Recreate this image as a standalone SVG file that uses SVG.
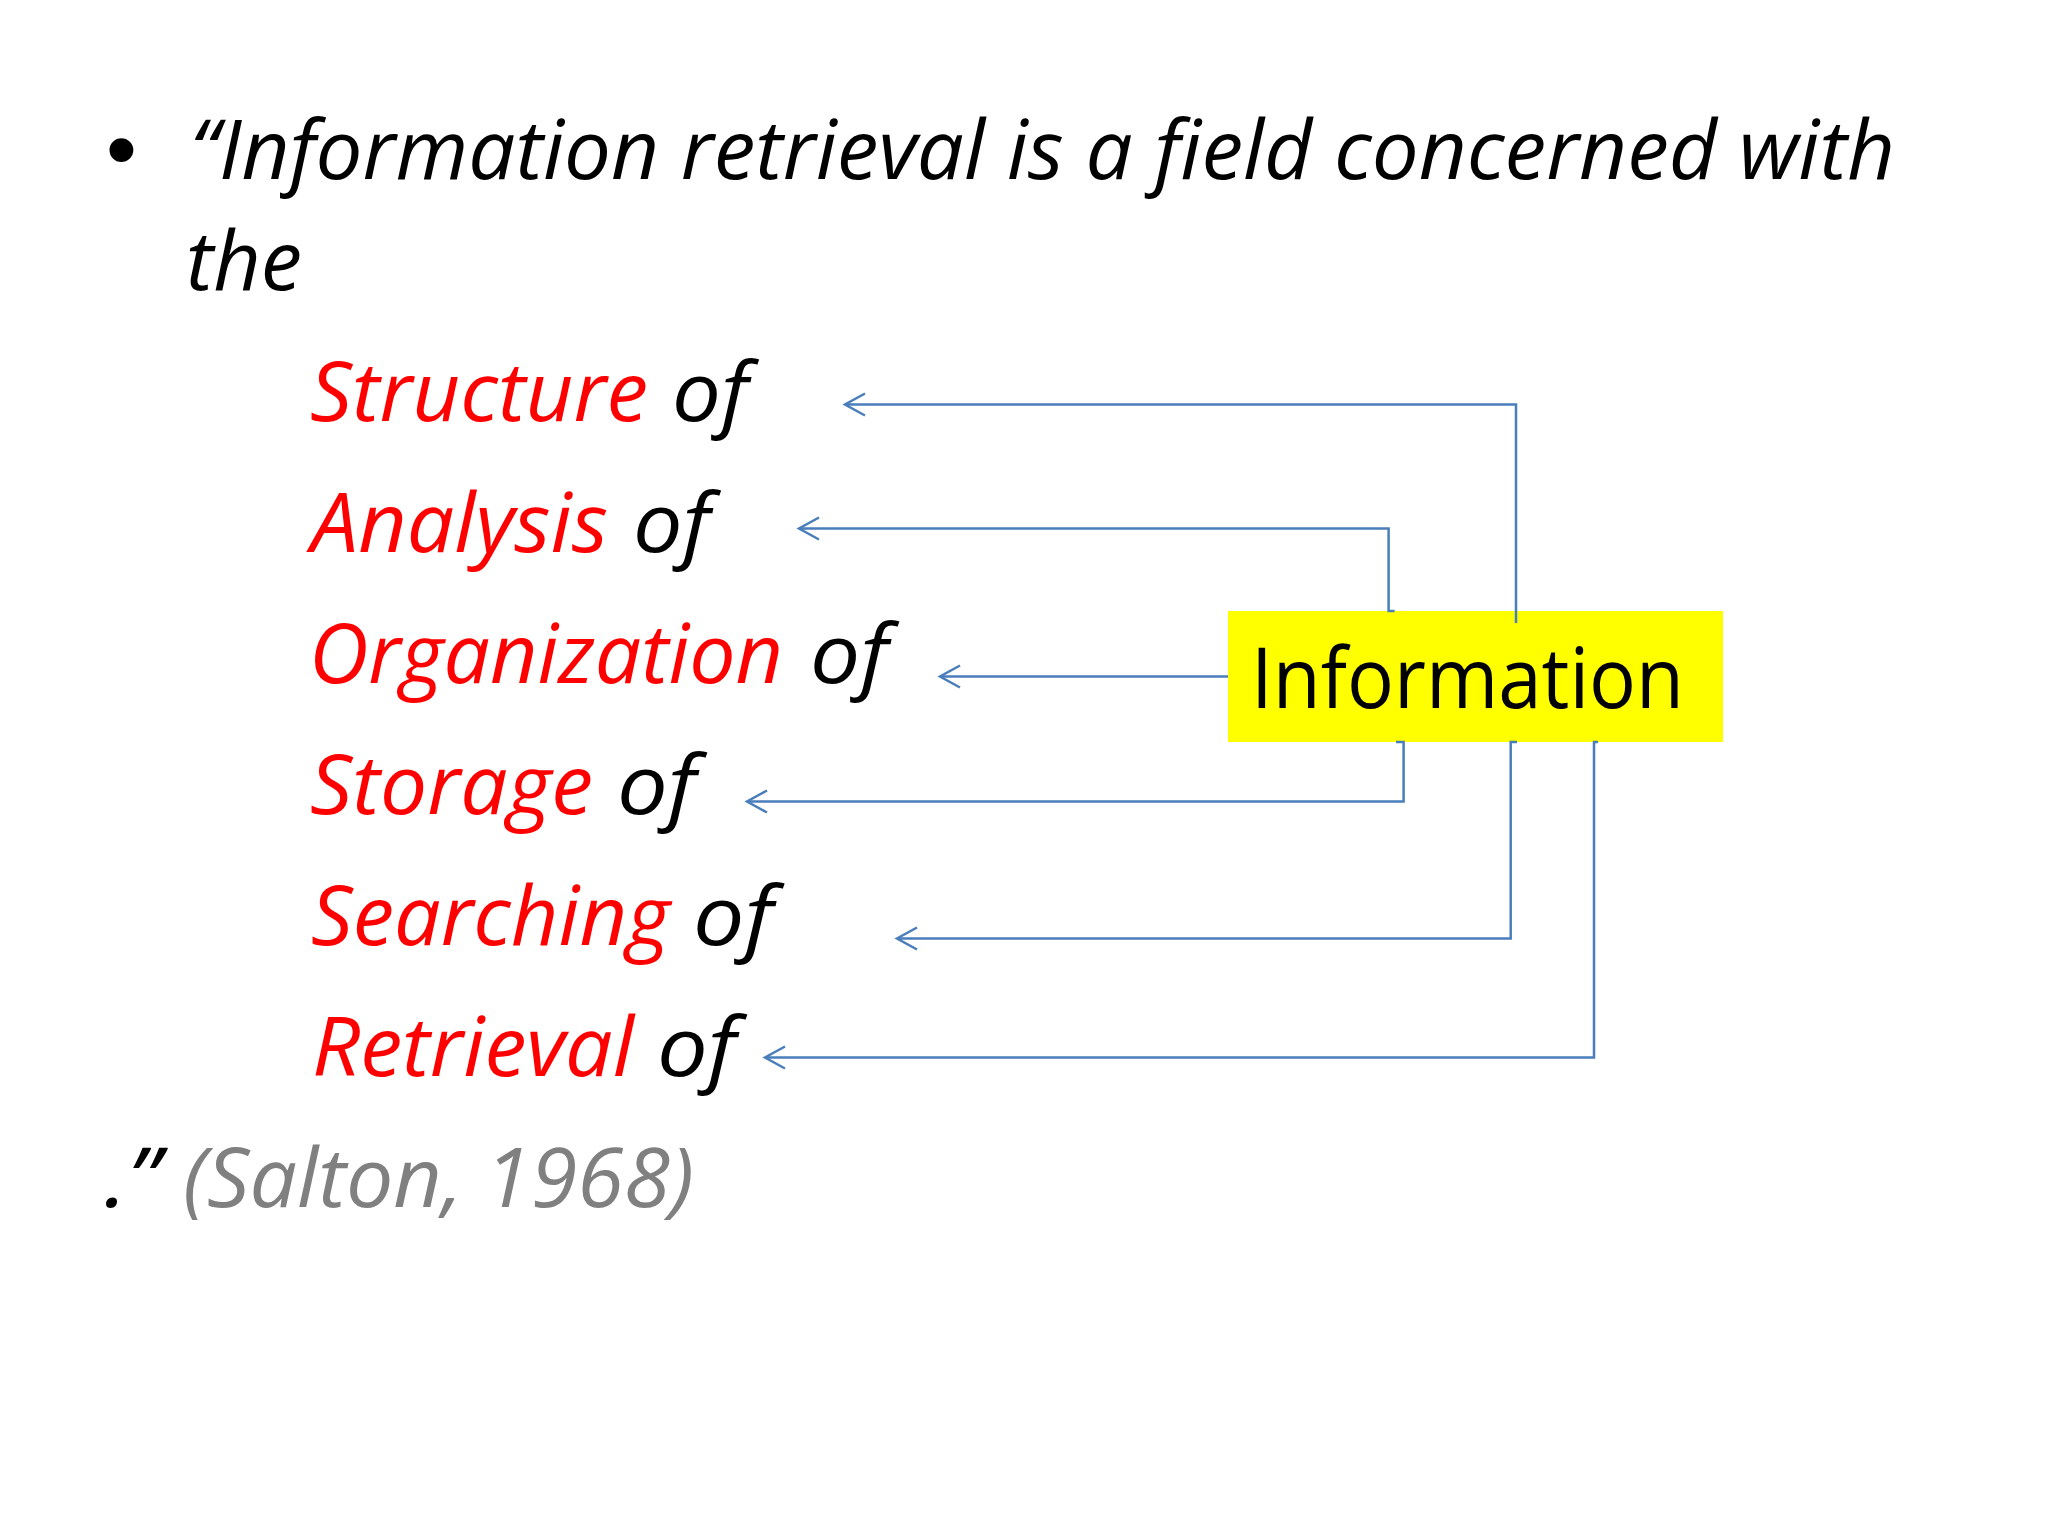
<svg xmlns="http://www.w3.org/2000/svg" width="2048" height="1536" viewBox="0 0 2048 1536">
<defs>
<style>
.t{font-family:"Open Sans","Liberation Sans",sans-serif;font-size:82px;font-style:italic}
.red{fill:#FF0000}
.blk{fill:#000000}
.gry{fill:#808080}
.lbl{font-family:"Open Sans","Liberation Sans",sans-serif;font-size:85px;fill:#000000}
.con{fill:none;stroke:#4A7EBB;stroke-width:2.5}
</style>
<marker id="arr" markerUnits="userSpaceOnUse" markerWidth="30" markerHeight="30" refX="0" refY="0" orient="auto" overflow="visible">
<path d="M-20,-11 L0,0 L-20,11" fill="none" stroke="#4A7EBB" stroke-width="2.5"/>
</marker>
</defs>
<rect width="2048" height="1536" fill="#FFFFFF"/>
<g id="quote">
<text x="106" y="179" style="font-family:'Liberation Sans',sans-serif;font-size:88px" fill="#000">•</text>
<text class="t blk" x="190" y="179" textLength="1705" lengthAdjust="spacingAndGlyphs">“Information retrieval is a field concerned with</text>
<text class="t blk" x="186" y="290" textLength="116" lengthAdjust="spacingAndGlyphs">the</text>
</g>
<g id="structure">
<text class="t red" x="310" y="421" textLength="338" lengthAdjust="spacingAndGlyphs">Structure</text>
<text class="t blk" x="672" y="421" textLength="76" lengthAdjust="spacingAndGlyphs">of</text>
</g>
<g id="analysis">
<text class="t red" x="311" y="552" textLength="297" lengthAdjust="spacingAndGlyphs">Analysis</text>
<text class="t blk" x="633" y="552" textLength="77" lengthAdjust="spacingAndGlyphs">of</text>
</g>
<g id="organization">
<text class="t red" x="309" y="683" textLength="474" lengthAdjust="spacingAndGlyphs">Organization</text>
<text class="t blk" x="810" y="683" textLength="78" lengthAdjust="spacingAndGlyphs">of</text>
</g>
<g id="storage">
<text class="t red" x="310" y="814" textLength="283" lengthAdjust="spacingAndGlyphs">Storage</text>
<text class="t blk" x="617" y="814" textLength="79" lengthAdjust="spacingAndGlyphs">of</text>
</g>
<g id="searching">
<text class="t red" x="311" y="945" textLength="359" lengthAdjust="spacingAndGlyphs">Searching</text>
<text class="t blk" x="693" y="945" textLength="80" lengthAdjust="spacingAndGlyphs">of</text>
</g>
<g id="retrieval">
<text class="t red" x="312" y="1076" textLength="322" lengthAdjust="spacingAndGlyphs">Retrieval</text>
<text class="t blk" x="657" y="1076" textLength="79" lengthAdjust="spacingAndGlyphs">of</text>
</g>
<g id="citation">
<text class="t blk" x="104" y="1207" textLength="56" lengthAdjust="spacingAndGlyphs">.”</text>
<text class="t gry" x="183" y="1207" textLength="511" lengthAdjust="spacingAndGlyphs">(Salton, 1968)</text>
</g>
<g id="information">
<rect x="1228" y="611" width="495" height="131" fill="#FFFF00"/>
<text class="lbl" x="1251" y="708" textLength="433" lengthAdjust="spacingAndGlyphs">Information</text>
</g>
<g id="connectors">
<path class="con" d="M1516,623 V404.5 H845" marker-end="url(#arr)"/>
<path class="con" d="M1394.6,611 H1388.6 V528.5 H799" marker-end="url(#arr)"/>
<path class="con" d="M1228,676.5 H940" marker-end="url(#arr)"/>
<path class="con" d="M1396,742 H1403.6 V801.5 H747" marker-end="url(#arr)"/>
<path class="con" d="M1517,742 H1510.7 V938.5 H897" marker-end="url(#arr)"/>
<path class="con" d="M1598,742 H1594 V1057.5 H765" marker-end="url(#arr)"/>
</g>
</svg>
